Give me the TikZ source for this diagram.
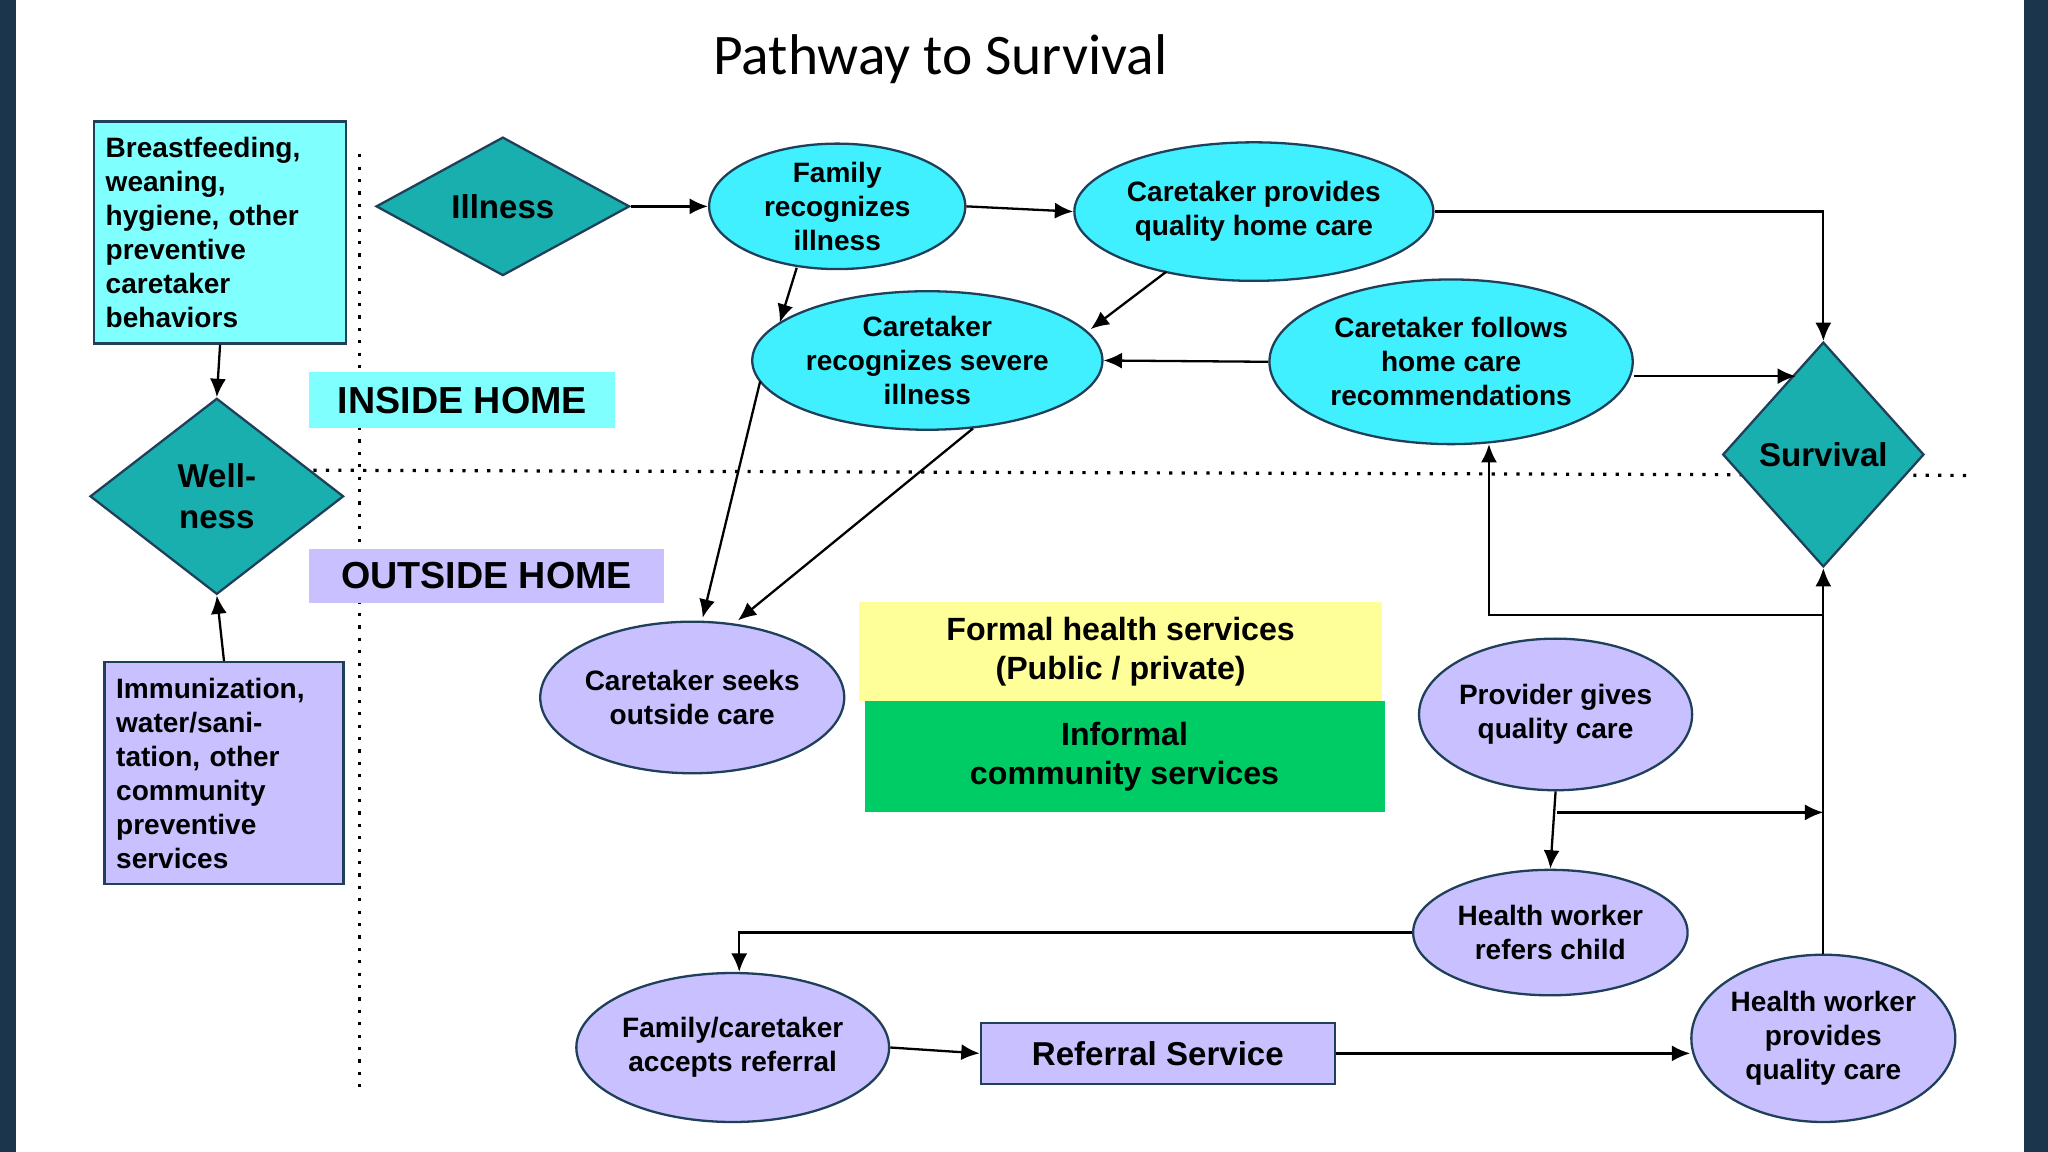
\documentclass[tikz,border=0pt]{standalone}
\usepackage{fontspec}
\setmainfont{Liberation Sans}
\newfontfamily\titlefont{Carlito}
\usetikzlibrary{shapes.geometric,arrows.meta}
\definecolor{cyanL}{HTML}{80FFFF}
\definecolor{cyanE}{HTML}{40F0FF}
\definecolor{teal}{HTML}{1AAFAF}
\definecolor{lav}{HTML}{C8C0FF}
\definecolor{yel}{HTML}{FFFF99}
\definecolor{grn}{HTML}{00CC66}
\definecolor{edge}{HTML}{20405A}
\begin{document}
\begin{tikzpicture}[x=0.01cm,y=-0.01cm,
  txt/.style={font=\bfseries\fontsize{6.1}{7.4}\selectfont,align=center,text=black},
  ell/.style={txt,ellipse,draw=edge,line width=0.5pt,inner sep=0pt},
  dia/.style={txt,diamond,draw=edge,line width=0.5pt,fill=teal,inner sep=0pt,font=\bfseries\fontsize{7.2}{9}\selectfont},
  box/.style={txt,draw=edge,line width=0.5pt,inner sep=0pt},
  lbl/.style={txt,inner sep=0pt,font=\bfseries\fontsize{8.2}{10}\selectfont},
  arr/.style={-{Latex[length=4pt,width=3.5pt]},line width=0.5pt}]
\useasboundingbox (0,0) rectangle (1568,882);
\fill[edge!85!black] (0,0) rectangle (1568,882);
\fill[white] (12,0) rectangle (1550,882);
\node[font=\titlefont\fontsize{12.5}{14}\selectfont] (title) at (720,45) {Pathway to Survival};
% dotted lines
\draw[dotted,line width=0.7pt] (275,118) -- (275,835);
\draw[dotted,line width=0.7pt] (240,360) -- (1508,364);
% left column
\node[box,fill=cyanL,minimum width=1.93cm,minimum height=1.70cm,align=left,text width=1.75cm] (breast) at (168.5,178) {Breastfeeding,\\weaning,\\hygiene, other\\preventive\\caretaker\\behaviors};
\node[dia,minimum width=1.94cm,minimum height=1.50cm] (well) at (166,380) {Well-\\ness};
\node[box,fill=lav,minimum width=1.83cm,minimum height=1.70cm,align=left,text width=1.65cm] (immun) at (171.5,592) {Immunization,\\water/sani-\\tation, other\\community\\preventive\\services};
\node[lbl,fill=cyanL,minimum width=2.34cm,minimum height=0.43cm] (inside) at (354,306.5) {INSIDE HOME};
\node[lbl,fill=lav,minimum width=2.71cm,minimum height=0.42cm] (outside) at (372.5,441) {OUTSIDE HOME};
% top row
\node[dia,minimum width=1.94cm,minimum height=1.06cm] (ill) at (385,158) {Illness};
\node[ell,fill=cyanE,minimum width=1.96cm,minimum height=0.96cm] (fam) at (641,158) {Family\\recognizes\\illness};
\node[ell,fill=cyanE,minimum width=2.68cm,minimum height=1.06cm] (prov) at (960,162) {Caretaker provides\\quality home care};
\node[ell,fill=cyanE,minimum width=2.68cm,minimum height=1.06cm] (sev) at (710,276) {Caretaker\\recognizes severe\\illness};
\node[ell,fill=cyanE,minimum width=2.78cm,minimum height=1.26cm] (fol) at (1111,277) {Caretaker follows\\home care\\recommendations};
\node[dia,minimum width=1.54cm,minimum height=1.72cm] (surv) at (1396,348) {Survival};
% outside
\node[ell,fill=lav,minimum width=2.12cm,minimum height=1.16cm] (seek) at (530,534) {Caretaker seeks\\outside care};
\node[txt,fill=yel,minimum width=4.00cm,minimum height=0.76cm,inner sep=0pt,font=\bfseries\fontsize{7}{8.6}\selectfont] (formal) at (858,499) {Formal health services\\(Public / private)};
\node[txt,fill=grn,minimum width=3.98cm,minimum height=0.85cm,inner sep=0pt,font=\bfseries\fontsize{7}{8.6}\selectfont] (inf) at (861,579.5) {Informal\\community services};
\node[ell,fill=lav,minimum width=1.94cm,minimum height=1.16cm] (pgq) at (1191,547) {Provider gives\\quality care};
\node[ell,fill=lav,minimum width=2.10cm,minimum height=0.96cm] (ref) at (1187,714) {Health worker\\refers child};
\node[ell,fill=lav,minimum width=2.34cm,minimum height=1.14cm] (acc) at (561,802) {Family/caretaker\\accepts referral};
\node[box,fill=lav,minimum width=2.71cm,minimum height=0.47cm,font=\bfseries\fontsize{7.2}{9}\selectfont] (rs) at (886.5,806.5) {Referral Service};
\node[ell,fill=lav,minimum width=2.02cm,minimum height=1.28cm] (hwp) at (1396,795) {Health worker\\provides\\quality care};
% arrows
\draw[arr] (breast.south) -- (well.north);
\draw[arr] (immun.north) -- (well.south);
\draw[arr] (ill.east) -- (fam.west);
\draw[arr] (fam.east) -- (prov.west);
\draw[arr] (prov.east) -| (surv.north);
\draw[arr] (610,205) -- (597,247);
\draw[arr] (893,208) -- (835,252);
\draw[arr] (fol.west) -- (sev.east);
\draw[arr] (fol.east |- 0,288) -- (1375,288);
\draw[arr] (582,292) -- (538,473);
\draw[arr] (745,328) -- (565,475);
\draw[arr] (pgq.south) -- (ref.north);
\coordinate (bp) at (1192,622);
\draw[arr] (bp) -- (1396,622);
\coordinate (rt) at (566,714);
\draw[arr] (ref.west) -- (rt) -- (acc.north -| rt);
\draw[arr] (acc.east) -- (rs.west);
\draw[arr] (rs.east) -- (hwp.west |- rs.east);
\draw[arr] (hwp.north) -- (surv.south);
\coordinate (jn) at (1396,471);
\draw[arr] (jn) -- (1140,471) -- (1140,340);
\end{tikzpicture}
\end{document}
